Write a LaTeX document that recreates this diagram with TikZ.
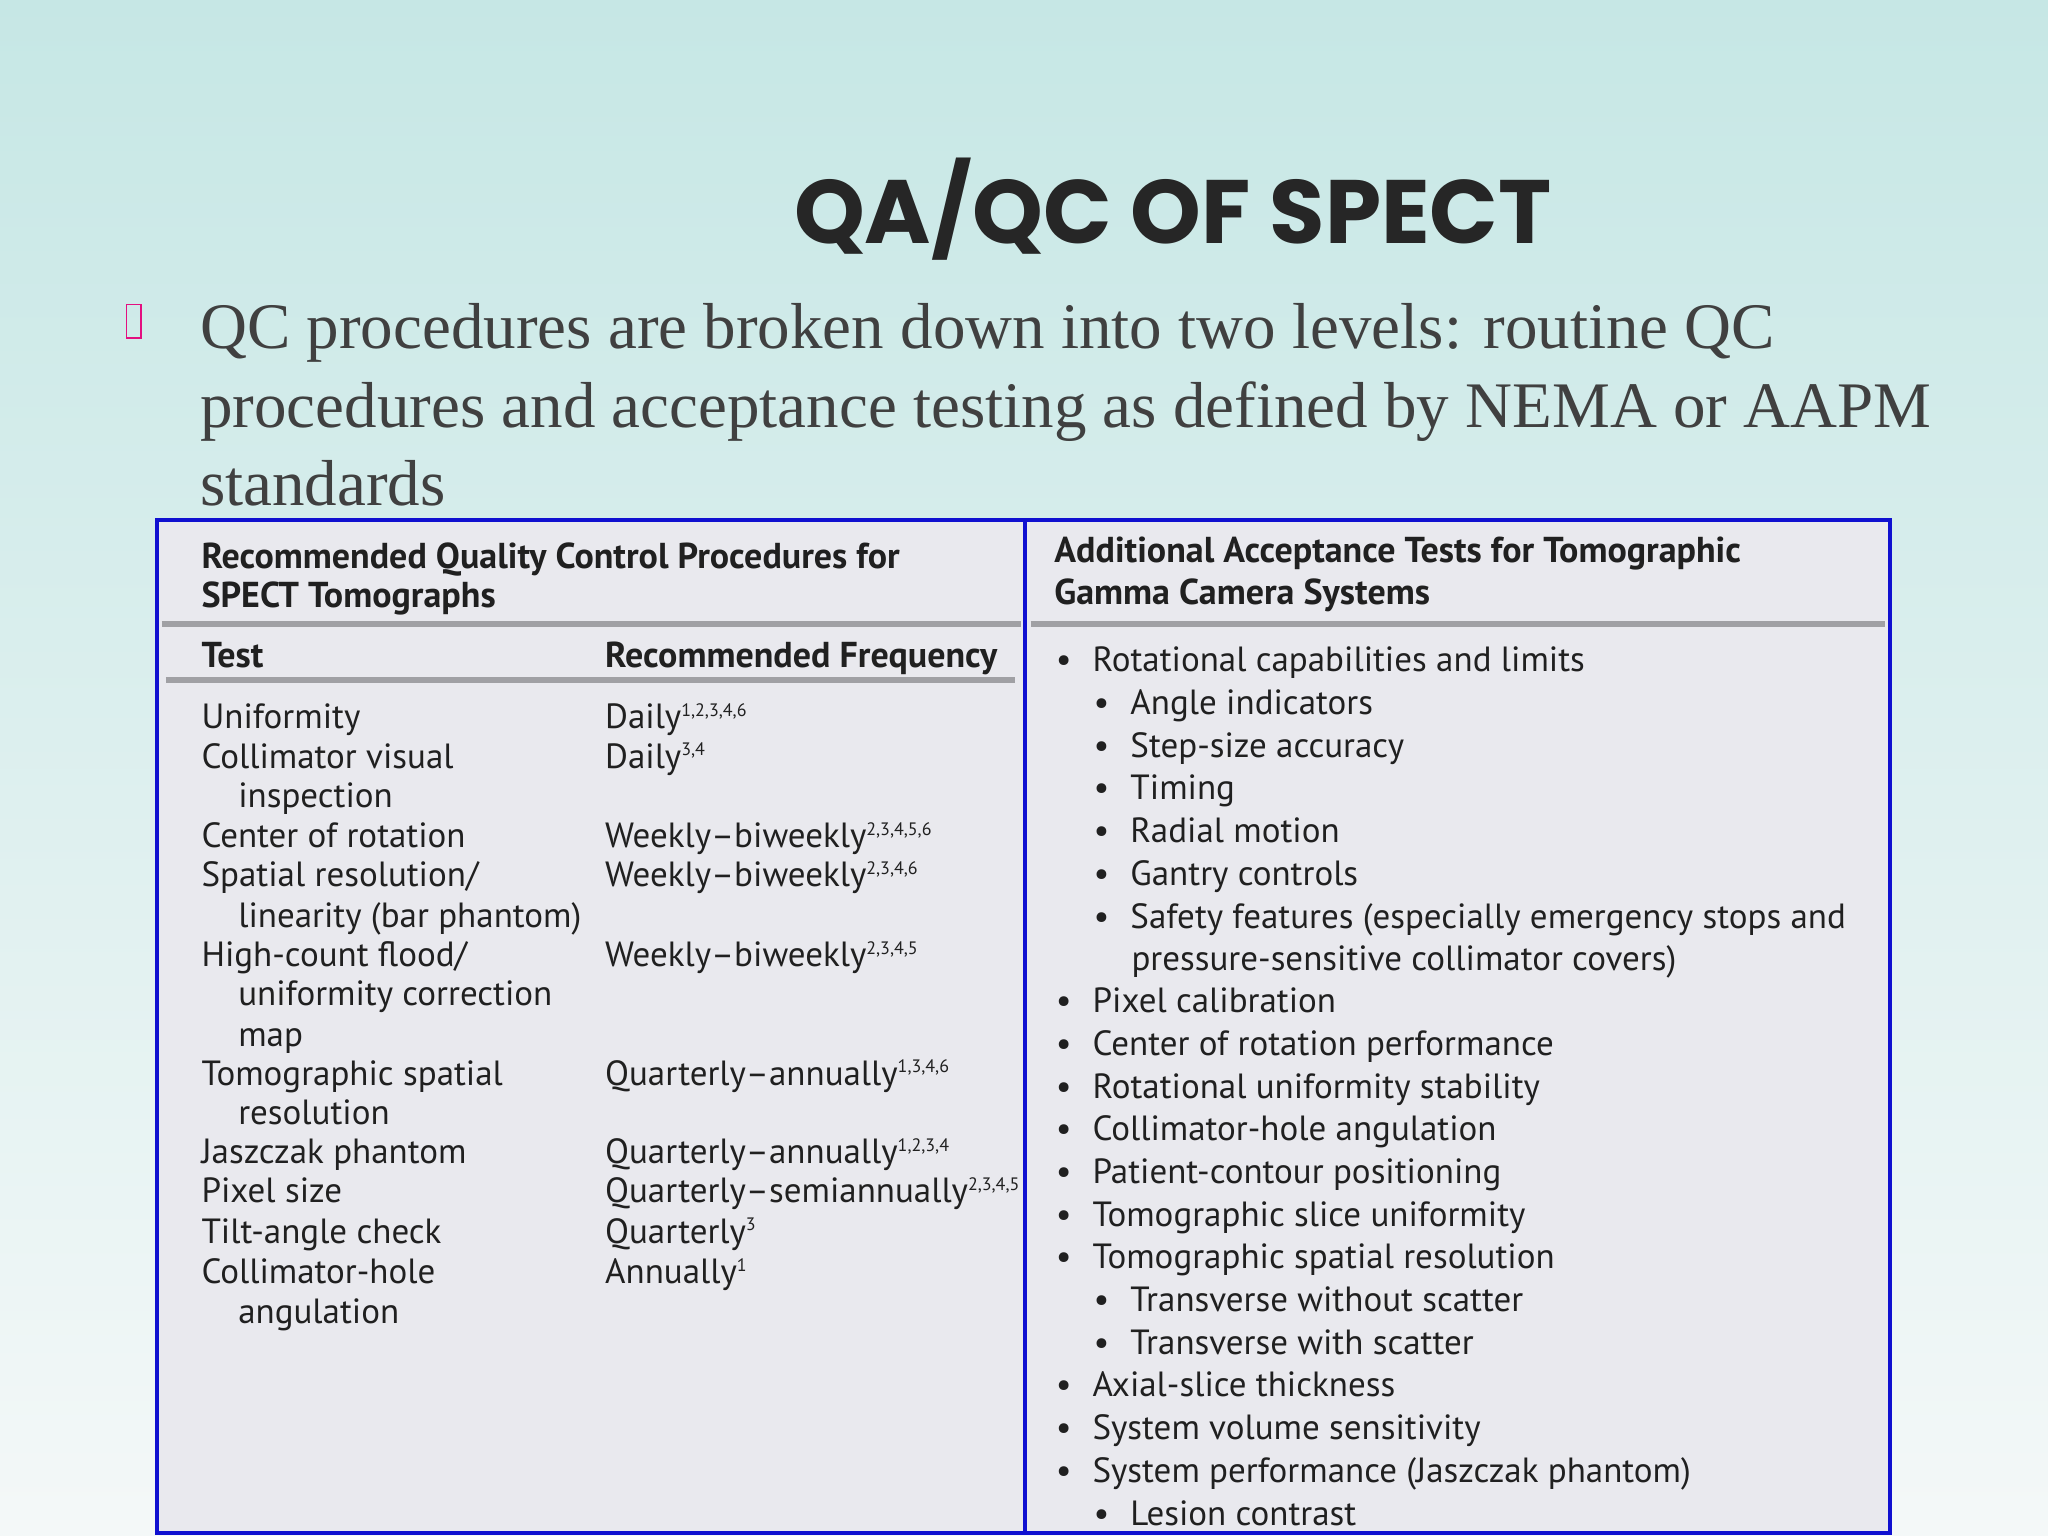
\documentclass[tikz,border=0pt]{standalone}
\usepackage{fontspec}
\setmainfont{Liberation Serif}
\setsansfont{PT Sans}
\newfontfamily\titlefont{Poppins}
\definecolor{bgtop}{HTML}{C6E7E5}
\definecolor{bgbot}{HTML}{F4F8F8}
\definecolor{bodygray}{HTML}{404040}
\definecolor{tabfill}{HTML}{E9E9EE}
\definecolor{rulegray}{HTML}{A0A0A4}
\definecolor{tabblue}{HTML}{1010D0}
\definecolor{txt}{HTML}{202020}
\tikzset{
  tx/.style={anchor=base west,inner sep=0pt,font=\sffamily\fontsize{17.5}{20}\selectfont,text=txt},
  hd/.style={tx,font=\sffamily\bfseries\fontsize{18}{21}\selectfont},
  body/.style={anchor=base west,inner sep=0pt,font=\fontsize{32.5}{38}\selectfont,text=bodygray},
}
\newcommand{\sps}[1]{\textsuperscript{\fontsize{9}{10}\selectfont #1}}
\newcommand{\bul}{\textbullet\hspace{0.6em}}
\newcommand{\ind}{\hspace{1.05em}}
\begin{document}
\begin{tikzpicture}[x=0.653pt,y=-0.653pt]
\useasboundingbox (0,0) rectangle (1568,1176);
\shade[top color=bgtop,bottom color=bgbot] (0,0) rectangle (1568,1176);
\node[inner sep=0pt,font=\titlefont\bfseries\fontsize{45}{52}\selectfont,text=black!85] (title) at (898,160) {QA/QC OF SPECT};
\draw[magenta!80!purple,line width=0.8pt] (97,233) rectangle (108,259);
\node[body] (b1) at (153,267) {QC procedures are broken down into two levels: routine QC};
\node[body] (b2) at (153,327) {procedures and acceptance testing as defined by NEMA or AAPM};
\node[body] (b3) at (153,387) {standards};
% table
\draw[tabblue,line width=2pt,fill=tabfill] (120,398) rectangle (1447,1174);
\draw[rulegray,line width=3pt] (124,478) -- (782,478);
\draw[rulegray,line width=3pt] (789,478) -- (1443,478);
\draw[rulegray,line width=3pt] (127,521) -- (777,521);
\draw[tabblue,line width=2pt] (785,398) -- (785,1174);
\node[hd] (lh1) at (154,435) {Recommended Quality Control Procedures for};
\node[hd] (lh2) at (154,465) {SPECT Tomographs};
\node[hd] (lt) at (154,511) {Test};
\node[hd] (lf) at (463,511) {Recommended Frequency};
\node[hd] (rh1) at (807,431) {Additional Acceptance Tests for Tomographic};
\node[hd] (rh2) at (807,463) {Gamma Camera Systems};
% left rows
\foreach \y/\t in {558/Uniformity,588/Collimator visual,618/\ind inspection,649/Center of rotation,679/{Spatial resolution/},710/\ind linearity (bar phantom),740/{High-count flood/},770/\ind uniformity correction,801/\ind map,831/Tomographic spatial,861/\ind resolution,891/Jaszczak phantom,921/Pixel size,952/Tilt-angle check,983/Collimator-hole,1013/\ind angulation}
  \node[tx] at (154,\y) {\t};
\node[tx] (f1) at (463,558) {Daily\sps{1,2,3,4,6}};
\node[tx] (f2) at (463,588) {Daily\sps{3,4}};
\node[tx] (f3) at (463,649) {Weekly--biweekly\sps{2,3,4,5,6}};
\node[tx] (f4) at (463,679) {Weekly--biweekly\sps{2,3,4,6}};
\node[tx] (f5) at (463,740) {Weekly--biweekly\sps{2,3,4,5}};
\node[tx] (f6) at (463,831) {Quarterly--annually\sps{1,3,4,6}};
\node[tx] (f7) at (463,891) {Quarterly--annually\sps{1,2,3,4}};
\node[tx] (f8) at (463,921) {Quarterly--semiannually\sps{2,3,4,5}};
\node[tx] (f9) at (463,952) {Quarterly\sps{3}};
\node[tx] (f10) at (463,983) {Annually\sps{1}};
% right list
\foreach \y/\t in {514/Rotational capabilities and limits,775/Pixel calibration,808/Center of rotation performance,841/Rotational uniformity stability,873/Collimator-hole angulation,906/Patient-contour positioning,939/Tomographic slice uniformity,971/Tomographic spatial resolution,1069/Axial-slice thickness,1102/System volume sensitivity,1135/System performance (Jaszczak phantom)}
  \node[tx] at (808,\y) {\bul\t};
\foreach \y/\t in {547/Angle indicators,580/Step-size accuracy,612/Timing,645/Radial motion,678/Gantry controls,711/Safety features (especially emergency stops and,1004/Transverse without scatter,1037/Transverse with scatter,1168/Lesion contrast}
  \node[tx] at (837,\y) {\bul\t};
\node[tx] (pc) at (866,743) {pressure-sensitive collimator covers)};
\end{tikzpicture}
\end{document}
